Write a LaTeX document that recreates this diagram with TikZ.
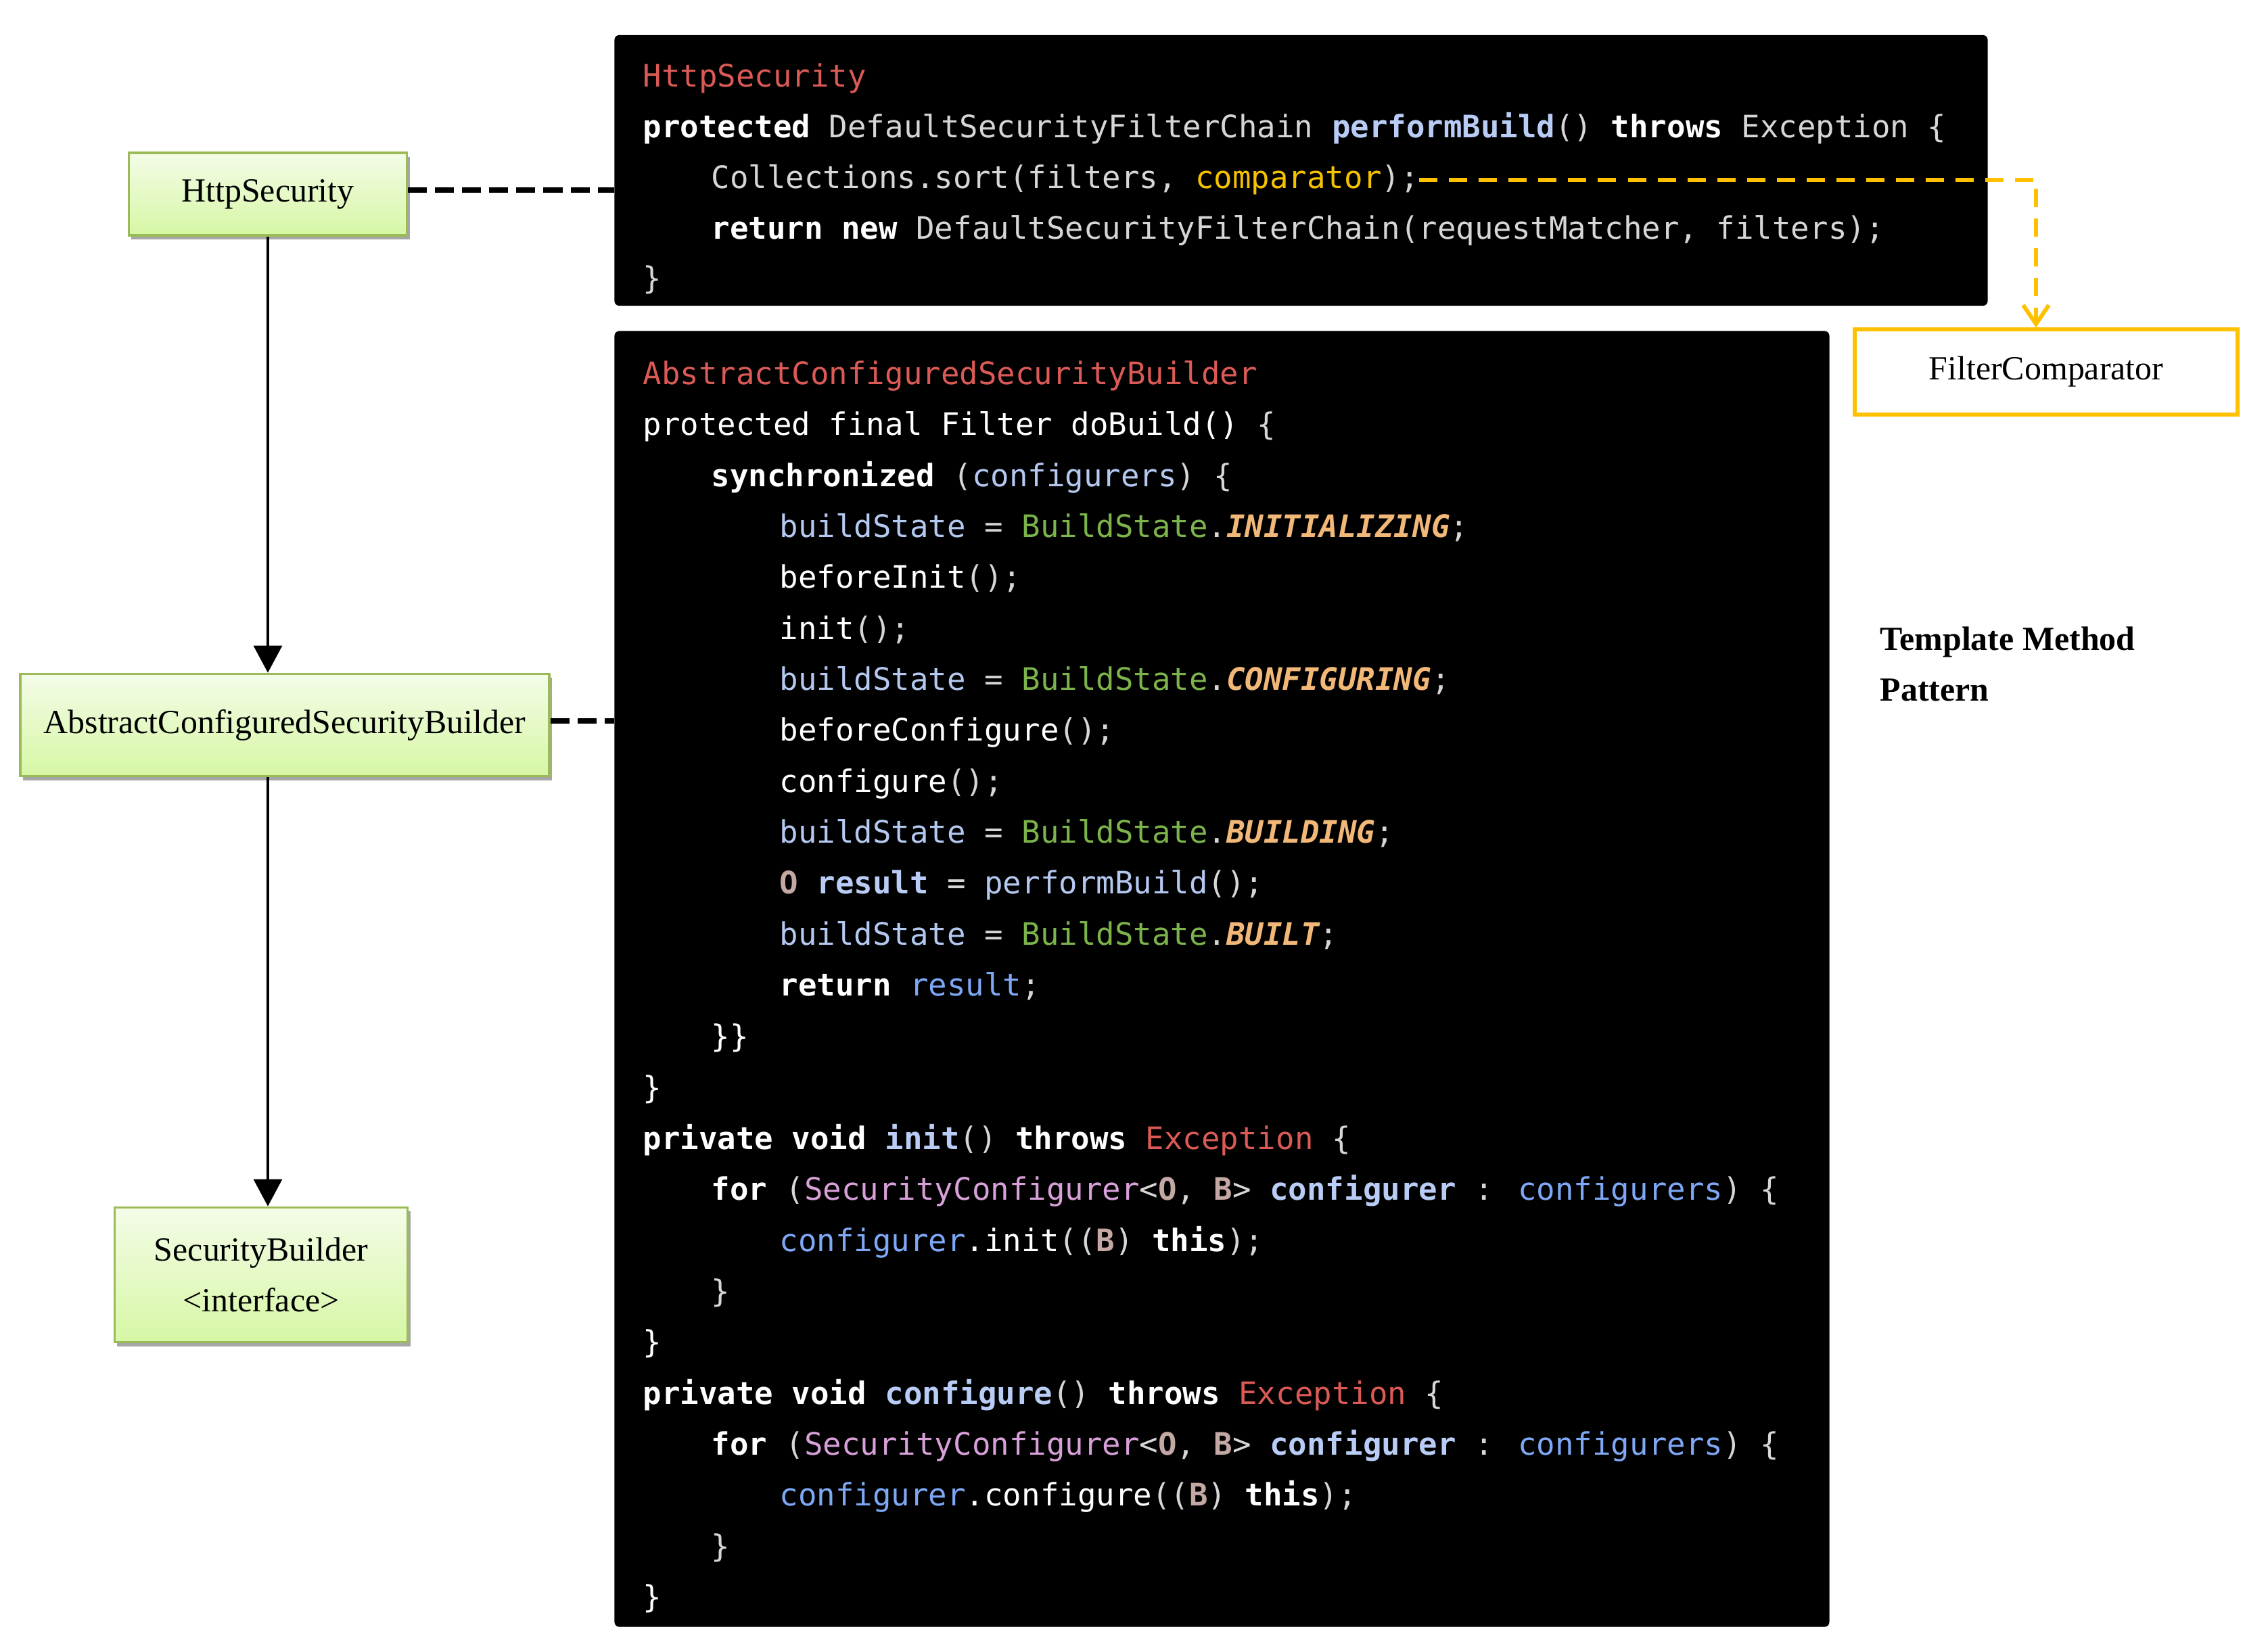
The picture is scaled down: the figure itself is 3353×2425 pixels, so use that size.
\documentclass[tikz,border=0pt]{standalone}
\usepackage{fontspec}
\setmainfont{Liberation Serif}
\newfontfamily\codefont{DejaVu Sans Mono}
\usetikzlibrary{arrows.meta,shadows}

\definecolor{codetxt}{HTML}{D6D6D6}
\definecolor{codered}{HTML}{DA5A56}
\definecolor{codefun}{HTML}{B8CCF5}
\definecolor{codevar}{HTML}{B4C8F0}
\definecolor{codegrn}{HTML}{7CB34A}
\definecolor{codecst}{HTML}{F2B878}
\definecolor{codetyp}{HTML}{C4A8A4}
\definecolor{codepur}{HTML}{D8A0D8}
\definecolor{coderef}{HTML}{7EA8F5}
\definecolor{codeylw}{HTML}{F5C200}
\definecolor{boxline}{HTML}{9BBB59}
\definecolor{boxtop}{HTML}{F4FCE8}
\definecolor{boxbot}{HTML}{D6F7A4}
\definecolor{linkylw}{HTML}{FFC000}

\newcommand{\jkey}[1]{\textcolor{white}{\bfseries #1}}
\newcommand{\jwht}[1]{\textcolor{white}{#1}}
\newcommand{\jred}[1]{\textcolor{codered}{#1}}
\newcommand{\jfun}[1]{\textcolor{codefun}{\bfseries #1}}
\newcommand{\jvar}[1]{\textcolor{codevar}{#1}}
\newcommand{\jgrn}[1]{\textcolor{codegrn}{#1}}
\newcommand{\jcst}[1]{\textcolor{codecst}{\bfseries\itshape #1}}
\newcommand{\jtyp}[1]{\textcolor{codetyp}{\bfseries #1}}
\newcommand{\jpur}[1]{\textcolor{codepur}{#1}}
\newcommand{\jref}[1]{\textcolor{coderef}{#1}}
\newcommand{\jylw}[1]{\textcolor{codeylw}{#1}}

\tikzset{
  codeline/.style={anchor=base west, inner sep=0pt, text=codetxt,
    font=\codefont\fontsize{13pt}{15pt}\selectfont},
  codebox/.style={fill=black, rounded corners=2pt, inner sep=0pt},
  classbox/.style={draw=boxline, line width=1pt, top color=boxtop, bottom color=boxbot,
    drop shadow={shadow xshift=0.04cm, shadow yshift=-0.06cm, opacity=0.35, fill=black},
    font=\fontsize{14.2pt}{21.3pt}\selectfont, align=center, inner sep=0pt},
  dashlink/.style={line width=2.2pt, dash pattern=on 0.28cm off 0.12cm},
  ylwlink/.style={draw=linkylw, line width=1.7pt, dash pattern=on 0.27cm off 0.17cm,
    -{Straight Barb[length=0.28cm,width=0.38cm,line width=1.7pt]}},
  inherit/.style={line width=0.9pt, -{Triangle[width=0.42cm,length=0.4cm]}}
}

\begin{document}
\begin{tikzpicture}[x=0.01cm, y=-0.01cm]
  \useasboundingbox (0,0) rectangle (3353,2425);

  % class chain
  \node[classbox, minimum width=4.11cm, minimum height=1.22cm] (hs) at (396,287) {HttpSecurity};
  \node[classbox, minimum width=7.82cm, minimum height=1.51cm] (acsb) at (421,1072) {AbstractConfiguredSecurityBuilder};
  \node[classbox, minimum width=4.33cm, minimum height=1.99cm] (sb) at (386,1885) {SecurityBuilder\\<interface>};

  \draw[inherit] (hs.south) -- (hs.south |- acsb.north);
  \draw[inherit] (acsb.south -| hs.south) -- (sb.north -| hs.south);

  % code panels
  \node[codebox, minimum width=20.29cm, minimum height=4cm] (perfbox) at (1923.5,252) {};
  \node[codebox, minimum width=17.95cm, minimum height=19.15cm] (buildbox) at (1806.5,1447.5) {};

  \node[codeline] (p1) at (950,129) {\jred{HttpSecurity}};
  \node[codeline] (p2) at (950,204) {\jkey{protected} DefaultSecurityFilterChain \jfun{performBuild}() \jkey{throws} Exception \{};
  \node[codeline] (sortline) at (1051,279) {Collections.sort(filters, \jylw{comparator});};
  \node[codeline] (p4) at (1051,354) {\jkey{return} \jkey{new} DefaultSecurityFilterChain(requestMatcher, filters);};
  \node[codeline] (p5) at (950,428) {\}};

  \node[codeline] (b1) at (950,569) {\jred{AbstractConfiguredSecurityBuilder}};
  \node[codeline] (b2) at (950,644) {\jwht{protected final Filter doBuild()} \{};
  \node[codeline] (b3) at (1051,720) {\jkey{synchronized} (\jvar{configurers}) \{};
  \node[codeline] (b4) at (1152,795) {\jvar{buildState} = \jgrn{BuildState}.\jcst{INITIALIZING};};
  \node[codeline] (b5) at (1152,870) {\jwht{beforeInit}();};
  \node[codeline] (b6) at (1152,946) {\jwht{init}();};
  \node[codeline] (b7) at (1152,1021) {\jvar{buildState} = \jgrn{BuildState}.\jcst{CONFIGURING};};
  \node[codeline] (b8) at (1152,1096) {\jwht{beforeConfigure}();};
  \node[codeline] (b9) at (1152,1172) {\jwht{configure}();};
  \node[codeline] (b10) at (1152,1247) {\jvar{buildState} = \jgrn{BuildState}.\jcst{BUILDING};};
  \node[codeline] (b11) at (1152,1322) {\jtyp{O} \jfun{result} = \jvar{performBuild}();};
  \node[codeline] (b12) at (1152,1398) {\jvar{buildState} = \jgrn{BuildState}.\jcst{BUILT};};
  \node[codeline] (b13) at (1152,1473) {\jkey{return} \jref{result};};
  \node[codeline] (b14) at (1051,1548) {\jwht{\}\}}};
  \node[codeline] (b15) at (950,1624) {\jwht{\}}};
  \node[codeline] (b16) at (950,1699) {\jkey{private void} \jfun{init}() \jkey{throws} \jred{Exception} \{};
  \node[codeline] (b17) at (1051,1774) {\jkey{for} (\jpur{SecurityConfigurer}<\jtyp{O}, \jtyp{B}> \jfun{configurer} : \jref{configurers}) \{};
  \node[codeline] (b18) at (1152,1850) {\jref{configurer}\jwht{.init}((\jtyp{B}) \jkey{this});};
  \node[codeline] (b19) at (1051,1925) {\}};
  \node[codeline] (b20) at (950,2000) {\jwht{\}}};
  \node[codeline] (b21) at (950,2076) {\jkey{private void} \jfun{configure}() \jkey{throws} \jred{Exception} \{};
  \node[codeline] (b22) at (1051,2151) {\jkey{for} (\jpur{SecurityConfigurer}<\jtyp{O}, \jtyp{B}> \jfun{configurer} : \jref{configurers}) \{};
  \node[codeline] (b23) at (1152,2226) {\jref{configurer}\jwht{.configure}((\jtyp{B}) \jkey{this});};
  \node[codeline] (b24) at (1051,2302) {\}};
  \node[codeline] (b25) at (950,2377) {\jwht{\}}};

  \draw[dashlink] ([yshift=0.06cm]hs.east) -- ([yshift=0.06cm]hs.east -| perfbox.west);
  \draw[dashlink] ([yshift=0.06cm]acsb.east) -- ([yshift=0.06cm]acsb.east -| buildbox.west);

  % comparator
  \node[draw=linkylw, line width=1.7pt, minimum width=5.65cm, minimum height=1.25cm,
    font=\fontsize{14.2pt}{17pt}\selectfont] (fc) at (3025,550) {FilterComparator};
  \draw[ylwlink] (sortline.east) -| ([xshift=-0.15cm]fc.north);

  \node[anchor=base west, inner sep=0pt, font=\bfseries\fontsize{14.2pt}{17pt}\selectfont] (tm1) at (2779,962) {Template Method};
  \node[anchor=base west, inner sep=0pt, font=\bfseries\fontsize{14.2pt}{17pt}\selectfont] (tm2) at (2779,1037) {Pattern};
\end{tikzpicture}
\end{document}
